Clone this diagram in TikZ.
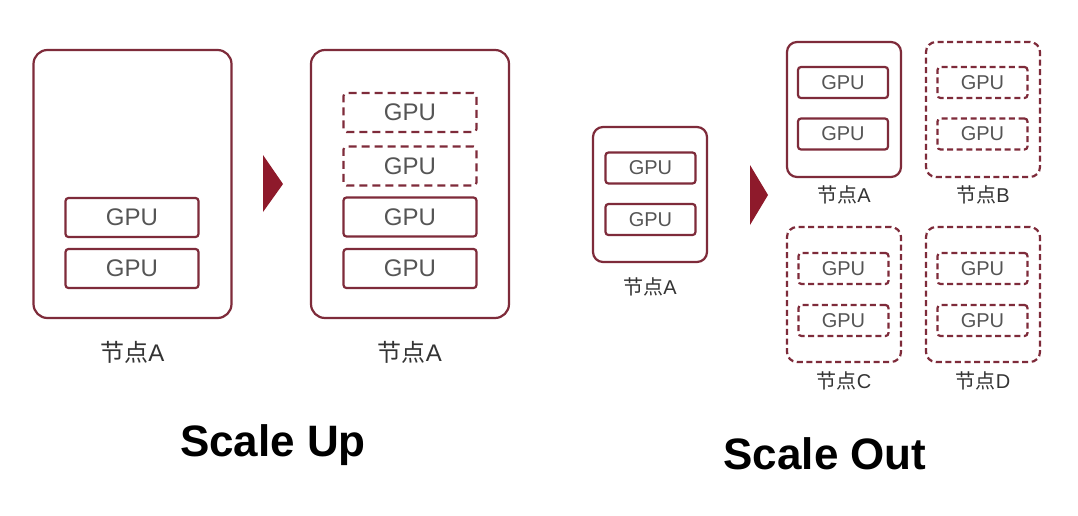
\documentclass[tikz,border=0pt]{standalone}
\usepackage{fontspec}
\setmainfont{Liberation Sans}
\newfontfamily\cjk{Noto Sans CJK SC}
\usepackage{xcolor}
\usetikzlibrary{positioning}

\definecolor{nodered}{HTML}{7E2B3A}
\definecolor{arrowred}{HTML}{8E1A2B}
\definecolor{gputext}{HTML}{555555}
\definecolor{labeltext}{HTML}{333333}

\begin{document}
\begin{tikzpicture}[x=0.5pt, y=-0.5pt,
        bigbox/.style={rectangle, draw=nodered, line width=1.1pt, rounded corners=7pt, minimum width=99pt, minimum height=134pt, inner sep=0pt},
        smallbox/.style={rectangle, draw=nodered, line width=1.1pt, rounded corners=5pt, minimum width=57pt, minimum height=67.5pt, inner sep=0pt},
        gpu/.style={rectangle, draw=nodered, line width=1.1pt, rounded corners=1.5pt, minimum width=66.5pt, minimum height=19.5pt, inner sep=0pt, text=gputext, font=\fontsize{12}{12}\selectfont},
        gpusmall/.style={gpu, minimum width=45pt, minimum height=15.5pt, font=\fontsize{10}{10}\selectfont},
        newpart/.style={dash pattern=on 4pt off 2.5pt},
        newnode/.style={dash pattern=on 3pt off 1.8pt},
        nodename/.style={inner sep=0pt, text=labeltext, font=\fontsize{12}{12}\selectfont},
        nodenamesmall/.style={nodename, font=\fontsize{10}{10}\selectfont},
        title/.style={inner sep=0pt, font=\bfseries\fontsize{22}{22}\selectfont}]

    \useasboundingbox[fill=white] (0,0) rectangle (1078,515);

    % Scale Up
    \node (upA) [bigbox] at (132.5,184) {};
    \node (upA1) [gpu] at (132,217.5) {GPU};
    \node (upA2) [gpu] at (132,268.5) {GPU};
    \node (upAname) [nodename, below=11pt of upA] {{\cjk 节点}A};

    \fill[arrowred] (263,155) -- (283,184) -- (263,212) -- cycle;

    \node (upB) [bigbox] at (410,184) {};
    \node (upB1) [gpu, newpart] at (410,112.5) {GPU};
    \node (upB2) [gpu, newpart] at (410,166) {GPU};
    \node (upB3) [gpu] at (410,217) {GPU};
    \node (upB4) [gpu] at (410,268.5) {GPU};
    \node (upBname) [nodename, below=11pt of upB] {{\cjk 节点}A};

    \node (uptitle) [title] at (273,445) {Scale Up};

    % Scale Out
    \node (outS) [smallbox] at (650,194.5) {};
    \node (outS1) [gpusmall] at (650.5,168) {GPU};
    \node (outS2) [gpusmall] at (650.5,219.5) {GPU};
    \node (outSname) [nodenamesmall, below=7pt of outS] {{\cjk 节点}A};

    \fill[arrowred] (750,165) -- (768,195) -- (750,225) -- cycle;

    \node (outA) [smallbox] at (844,109.5) {};
    \node (outA1) [gpusmall] at (843,82.5) {GPU};
    \node (outA2) [gpusmall] at (843,134) {GPU};
    \node (outAname) [nodenamesmall, below=3.5pt of outA] {{\cjk 节点}A};

    \node (outB) [smallbox, newnode] at (983,109.5) {};
    \node (outB1) [gpusmall, newnode] at (982.5,82.5) {GPU};
    \node (outB2) [gpusmall, newnode] at (982.5,134) {GPU};
    \node (outBname) [nodenamesmall, below=3.5pt of outB] {{\cjk 节点}B};

    \node (outC) [smallbox, newnode] at (844,294.5) {};
    \node (outC1) [gpusmall, newnode] at (843.5,268.5) {GPU};
    \node (outC2) [gpusmall, newnode] at (843.5,320.5) {GPU};
    \node (outCname) [nodenamesmall, below=4pt of outC] {{\cjk 节点}C};

    \node (outD) [smallbox, newnode] at (983,294.5) {};
    \node (outD1) [gpusmall, newnode] at (982.5,268.5) {GPU};
    \node (outD2) [gpusmall, newnode] at (982.5,320.5) {GPU};
    \node (outDname) [nodenamesmall, below=4pt of outD] {{\cjk 节点}D};

    \node (outtitle) [title] at (825,454) {Scale Out};
\end{tikzpicture}
\end{document}
